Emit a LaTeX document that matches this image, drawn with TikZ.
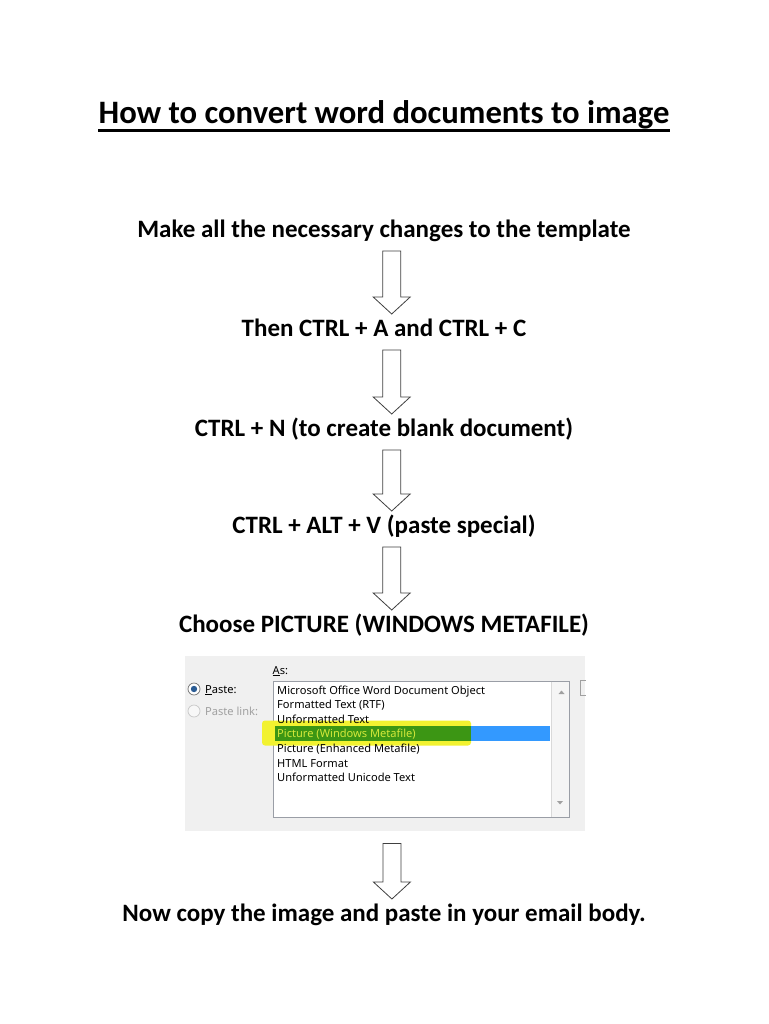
\documentclass[tikz,border=0pt]{standalone}
\usepackage{fontspec}
\setmainfont{Carlito}
\newfontfamily\uifont{Noto Sans}
\usetikzlibrary{calc}
\definecolor{dlgbg}{HTML}{F0F0F0}
\definecolor{lbborder}{HTML}{9A9EA6}
\definecolor{selblue}{HTML}{3399FF}
\definecolor{hlgreen}{HTML}{3C9614}
\definecolor{hlyellow}{HTML}{F2F230}
\definecolor{hltext}{HTML}{D4E83A}
\definecolor{ctlgray}{HTML}{A0A0A0}
\definecolor{radioblue}{HTML}{2B5C94}
\tikzset{
  titletxt/.style={font=\bfseries\fontsize{32.7}{38}\selectfont, anchor=base, inner sep=0pt},
  steptxt/.style={font=\bfseries\fontsize{25}{30}\selectfont, anchor=base, inner sep=0pt},
  uitxt/.style={font=\uifont\fontsize{11.1}{13}\selectfont, anchor=base west, inner sep=0pt},
  hollow/.style={draw=black!75, fill=white, line width=0.8pt, line join=miter},
}
\newcommand\hollowdown[2]{%
  \draw[hollow] let \p1=(#1), \p2=(#2) in
    (\x1-9pt,\y1) -- (\x1+9pt,\y1) -- (\x1+9pt,\y2+17pt) -- (\x1+18.5pt,\y2+17pt)
    -- (\x1,\y2) -- (\x1-18.5pt,\y2+17pt) -- (\x1-9pt,\y2+17pt) -- cycle;}
\begin{document}
\begin{tikzpicture}[x=1pt,y=-1pt]
\useasboundingbox[fill=white] (0,0) rectangle (768,1024);

% title
\node[titletxt] (title) at (384,124) {How to convert word documents to image};
\draw[line width=2.2pt] ($(title.base west)+(0,6.5)$) -- ($(title.base east)+(0,6.5)$);

% steps
\node[steptxt] (s0) at (384,237) {Make all the necessary changes to the template};
\node[steptxt] (s1) at (384,336) {Then CTRL + A and CTRL + C};
\node[steptxt] (s2) at (384,436) {CTRL + N (to create blank document)};
\node[steptxt] (s3) at (384,533) {CTRL + ALT + V (paste special)};
\node[steptxt] (s4) at (384,632) {Choose PICTURE (WINDOWS METAFILE)};
\node[steptxt] (s5) at (384,921) {Now copy the image and paste in your email body.};

% dialog screenshot
\node[fill=dlgbg, inner sep=0pt, minimum width=400pt, minimum height=175pt, anchor=north west] (shot) at (185,656) {};
\node[draw=lbborder, fill=white, line width=0.8pt, inner sep=0pt, minimum width=296pt, minimum height=136pt, anchor=north west] (list) at (273,681) {};
\fill[white!96!black] (551.5,681.5) rectangle (568.6,816.5);
\draw[white!85!black, line width=0.6pt] (551.5,681.5) -- (551.5,816.5);
\fill[ctlgray] (558.5,694) -- (564.5,694) -- (561.5,690.5) -- cycle;
\fill[ctlgray] (557,801) -- (563,801) -- (560,804.5) -- cycle;
\draw[ctlgray, line width=0.8pt] (585.5,680) -- (580,680) -- (580,695) -- (585.5,695);

% highlighted row
\fill[hlyellow, rounded corners=3pt] (262,720.5) -- (471,720.5) -- (471,745.5) -- (262,745.5) -- cycle;
\fill[selblue] (275,726) rectangle (550,741);
\fill[hlgreen] (275,726) rectangle (471,741);

\node[uitxt] (as) at (272.5,674) {\underline{A}s:};
\node[uitxt] (it1) at (277,694) {Microsoft Office Word Document Object};
\node[uitxt] (it2) at (277,708.6) {Formatted Text (RTF)};
\node[uitxt] (it3) at (277,723.2) {Unformatted Text};
\node[uitxt, text=hltext] (it4) at (277,737.8) {Picture (Windows Metafile)};
\node[uitxt] (it5) at (277,752.4) {Picture (Enhanced Metafile)};
\node[uitxt] (it6) at (277,767) {HTML Format};
\node[uitxt] (it7) at (277,781.6) {Unformatted Unicode Text};

% radio buttons
\draw[fill=white, draw=black!55, line width=0.7pt] (194,689) circle (6);
\fill[radioblue] (194,689) circle (3.2);
\draw[fill=white!97!black, draw=black!22, line width=0.7pt] (194,711) circle (6);
\node[uitxt] (paste) at (205,693) {\underline{P}aste:};
\node[uitxt, text=ctlgray] (pastelink) at (205,715) {Paste link:};

% arrows
\hollowdown{$(s0.base)+(7.7,14)$}{$(s1.base)+(7.7,-22)$}
\hollowdown{$(s1.base)+(7.7,14)$}{$(s2.base)+(7.7,-22)$}
\hollowdown{$(s2.base)+(7.7,14)$}{$(s3.base)+(7.7,-22)$}
\hollowdown{$(s3.base)+(7.7,14)$}{$(s4.base)+(7.7,-22)$}
\hollowdown{$(shot.south)+(6.7,12)$}{$(s5.base)+(7.7,-22)$}
\end{tikzpicture}
\end{document}
